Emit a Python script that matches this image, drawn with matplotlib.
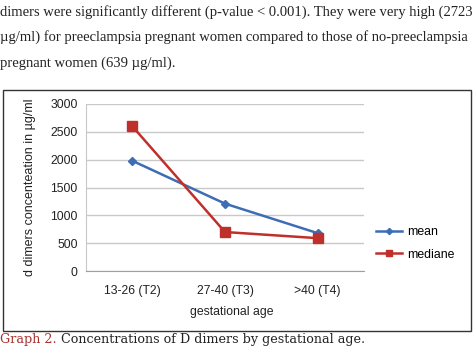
import numpy as np
import matplotlib.pyplot as plt
from matplotlib.patches import Rectangle

categories = ["13-26 (T2)", "27-40 (T3)", ">40 (T4)"]
mean_values = [1980, 1210, 680]
median_values = [2600, 700, 590]

page_lines = [
    "dimers were significantly different (p-value < 0.001). They were very high (2723",
    "\u00b5g/ml) for preeclampsia pregnant women compared to those of no-preeclampsia",
    "pregnant women (639 \u00b5g/ml).",
]

W, H = 474, 358
fig = plt.figure(figsize=(W / 100, H / 100), dpi=100)
fig.patch.set_facecolor("white")

# page text above the chart
for i, line in enumerate(page_lines):
    fig.text(0.0, 1 - (12 + 25.5 * i) / H, line, family="Liberation Serif",
             fontsize=10.5, va="center", ha="left", color="#222222")

# frame round the chart
fig.add_artist(Rectangle((3 / W, 1 - 331 / H), 468 / W, 241 / H,
                         transform=fig.transFigure, fill=False,
                         edgecolor="#333333", linewidth=1.0))

ax = fig.add_axes([86 / W, 1 - 271 / H, 278 / W, 167 / H])
x = np.arange(len(categories))
ax.plot(x, mean_values, color="#3d6db5", linewidth=1.8, marker="D",
        markersize=4.5, label="mean")
ax.plot(x, median_values, color="#c0302b", linewidth=1.8, marker="s",
        markersize=7, label="mediane")

ax.set_xlim(-0.5, 2.5)
ax.set_ylim(0, 3000)
ax.set_yticks(np.arange(0, 3001, 500))
ax.set_xticks(x)
ax.set_xticklabels(categories)
ax.grid(axis="y", color="#c8c8c8", linewidth=1)
ax.set_axisbelow(True)
for s in ["top", "right"]:
    ax.spines[s].set_visible(False)
ax.spines["left"].set_color("#c8c8c8")
ax.spines["bottom"].set_color("#a0a0a0")
ax.tick_params(length=0, labelsize=8.8, labelcolor="#222222", pad=6)
for lab in ax.get_xticklabels() + ax.get_yticklabels():
    lab.set_family("Liberation Sans")
ax.tick_params(axis="x", pad=10)

ax.set_ylabel("d dimers concenteation in \u00b5g/ml", family="Liberation Sans",
              fontsize=9.0, color="#222222", labelpad=10)
fig.text(232 / W, 1 - 312 / H, "gestational age", family="Liberation Sans",
         fontsize=8.8, ha="center", va="center", color="#222222")

ax.legend(loc="center left", bbox_to_anchor=(1.005, 0.165), frameon=False,
          prop={"family": "Liberation Sans", "size": 8.8}, handlelength=2.1,
          handletextpad=0.45, labelspacing=0.85, markerscale=0.7)

# caption: coloured label, then the rest right after it
cap_y = 1 - 340 / H
lab = fig.text(0.0, cap_y, "Graph 2.", family="DejaVu Serif", fontsize=9.2,
               color="#a8322d", va="center", ha="left")
fig.canvas.draw()
bb = lab.get_window_extent()
fig.text((bb.x1 + 4) / W, cap_y, "Concentrations of D dimers by gestational age.",
         family="DejaVu Serif", fontsize=9.2, color="#222222",
         va="center", ha="left")

fig.savefig("out.png", dpi=100)
